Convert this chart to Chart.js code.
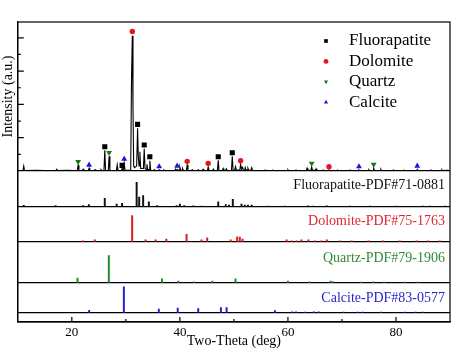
<!DOCTYPE html>
<html>
<head>
<meta charset="utf-8">
<script src="https://cdn.jsdelivr.net/npm/chart.js@4.4.1/dist/chart.umd.min.js"></script>
<style>
  html, body { margin: 0; padding: 0; background: #fff; }
  canvas { display: block; }
</style>
</head>
<body>
<canvas id="xrd" width="474" height="350"></canvas>
<script>
// measured pattern: [2-theta, counts]
const spectrum = [
  [10, 30], [10.95, 30], [11.1, 300], [11.25, 30],
  [13.5, 45], [15.0, 30], [17.05, 30], [17.2, 100], [17.35, 30],
  [19.0, 40], [20.5, 30], [21.0, 40], [21.17, 340], [21.32, 40],
  [21.95, 30], [22.1, 110], [22.25, 30],
  [23.05, 30], [23.2, 170], [23.35, 30],
  [24.15, 30], [24.3, 90], [24.45, 30],
  [25.25, 30], [25.4, 90], [25.55, 30],
  [25.95, 30], [26.1, 1250], [26.25, 30],
  [26.75, 30], [26.9, 880], [27.05, 30],
  [28.25, 30], [28.4, 380], [28.55, 30],
  [29.15, 30], [29.3, 150], [29.45, 30],
  [29.55, 30], [29.7, 460], [29.85, 40],
  [30.9, 60], [31.05, 5600], [31.2, 8130], [31.32, 3800], [31.45, 300], [31.6, 200],
  [32.0, 300], [32.17, 2560], [32.3, 900], [32.45, 300], [32.6, 1150], [32.75, 150],
  [33.25, 150], [33.4, 1330], [33.55, 150], [33.75, 100], [33.9, 400], [34.05, 80],
  [34.3, 80], [34.44, 620], [34.6, 40],
  [35.1, 30], [35.25, 90], [35.4, 30],
  [36.05, 30], [36.17, 70], [36.3, 30],
  [36.9, 30], [37.0, 70], [37.15, 30],
  [39.05, 30], [39.2, 120], [39.35, 40], [39.5, 90], [39.65, 30],
  [39.85, 40], [40.0, 240], [40.15, 40], [40.4, 40], [40.5, 150], [40.65, 30],
  [41.2, 30], [41.35, 360], [41.5, 30],
  [42.15, 30], [42.3, 80], [42.45, 30],
  [43.25, 30], [43.4, 80], [43.55, 30],
  [44.15, 30], [44.3, 100], [44.45, 30],
  [45.1, 30], [45.24, 240], [45.4, 30],
  [46.05, 30], [46.2, 110], [46.35, 30],
  [46.95, 30], [47.1, 640], [47.25, 30],
  [47.85, 30], [48.0, 150], [48.15, 30], [48.45, 30], [48.6, 130], [48.75, 30],
  [49.55, 30], [49.7, 880], [49.85, 60],
  [50.15, 60], [50.3, 260], [50.45, 60],
  [51.1, 60], [51.24, 420], [51.4, 100], [51.6, 230], [51.75, 60],
  [52.0, 60], [52.1, 200], [52.25, 50],
  [52.5, 50], [52.6, 170], [52.75, 40],
  [53.15, 40], [53.3, 200], [53.45, 30],
  [55.7, 30], [55.8, 60], [55.9, 30],
  [57.1, 30], [57.2, 50], [57.3, 30],
  [59.9, 30], [60.0, 80], [60.1, 30],
  [61.4, 30], [61.5, 60], [61.6, 30],
  [63.4, 30], [63.55, 170], [63.7, 40], [64.25, 40], [64.4, 240], [64.55, 40],
  [65.1, 40], [65.2, 130], [65.35, 30],
  [66.4, 30], [66.5, 60], [66.6, 30],
  [67.5, 30], [67.6, 80], [67.7, 30],
  [69.1, 30], [69.2, 50], [69.3, 30],
  [71.4, 30], [71.5, 60], [71.6, 30],
  [73.05, 30], [73.15, 70], [73.25, 30],
  [74.9, 30], [75.0, 80], [75.1, 30],
  [75.75, 30], [75.87, 190], [76.0, 30],
  [77.1, 30], [77.2, 100], [77.3, 30],
  [79.4, 30], [79.5, 60], [79.6, 30],
  [81.4, 30], [81.5, 50], [81.6, 30],
  [83.85, 30], [83.94, 90], [84.05, 30],
  [86.4, 30], [86.5, 60], [86.6, 30],
  [88.4, 30], [88.5, 80], [88.6, 30],
  [89.5, 40], [90, 30]
];

// phase markers above identified peaks: [2-theta, counts]
const fluorMarks = [[26.1, 1460], [29.3, 340], [32.17, 2800], [33.4, 1560], [34.44, 860], [47.1, 860], [49.7, 1100]];
const doloMarks = [[31.2, 8380], [41.35, 580], [45.24, 460], [51.24, 620], [67.6, 260]];
const quartzMarks = [[21.17, 560], [26.9, 1100], [64.4, 460], [75.87, 400]];
const calciteMarks = [[23.2, 360], [29.7, 720], [36.17, 260], [39.5, 300], [73.15, 260], [83.94, 300]];

// reference card lines: [2-theta, relative intensity]
const fluorSticks = [[11.1, 7], [17.0, 6], [22.1, 6], [23.15, 10], [26.1, 35], [28.3, 12], [29.3, 15],
  [32.0, 100], [32.47, 40], [33.2, 46], [34.26, 21], [35.8, 6], [39.4, 6], [40.0, 12], [40.8, 6],
  [42.5, 5], [44.0, 4], [47.1, 21], [48.5, 10], [49.1, 8], [49.8, 31], [51.4, 12], [52.0, 8],
  [52.6, 8], [53.3, 8], [56.4, 4], [59.4, 4], [63.7, 5], [64.6, 4], [67.2, 5], [71.5, 4],
  [75.2, 4], [80.1, 4], [85.0, 4], [86.3, 4], [89.1, 4]];
const doloSticks = [[22.1, 4], [24.26, 8], [31.17, 100], [33.65, 8], [35.5, 8], [37.5, 11], [41.24, 29],
  [44.0, 8], [45.06, 16], [49.4, 8], [50.6, 20], [51.1, 19], [51.6, 11], [59.75, 8], [60.7, 4],
  [61.6, 4], [62.5, 8], [63.8, 8], [65.0, 4], [66.2, 4], [67.2, 8], [69.6, 4], [71.8, 4],
  [74.9, 4], [77.6, 4], [80.7, 4], [83.8, 4], [85.9, 4], [88.1, 4]];
const quartzSticks = [[21.05, 18], [26.85, 100], [36.7, 15], [39.7, 7], [42.6, 4], [46.0, 7], [50.3, 15],
  [60.0, 7], [64.0, 4], [67.9, 7], [68.3, 5], [73.6, 3], [75.8, 4], [77.8, 3], [81.6, 3], [84.0, 3]];
const calciteSticks = [[23.2, 10], [29.63, 100], [36.1, 15], [39.6, 19], [43.4, 17], [47.6, 20], [48.65, 20],
  [57.6, 9], [60.8, 4], [61.5, 4], [63.2, 3], [64.8, 4], [65.7, 4], [70.3, 3], [72.9, 3],
  [73.8, 3], [77.2, 3], [81.6, 3], [83.6, 3], [84.9, 3]];

const xTicks = [20, 40, 60, 80];
const xMinorTicks = [30, 50, 70];
const yTicks = [1000, 2000, 3000, 4000, 5000, 6000, 7000, 8000];
const panelLabels = ['Fluorapatite-PDF#71-0881', 'Dolomite-PDF#75-1763', 'Quartz-PDF#79-1906', 'Calcite-PDF#83-0577'];

const SERIF = '"Liberation Serif", "Times New Roman", serif';
const RED = '#e5141e', GREEN = '#17791a', BLUE = '#1616e0', BLACK = '#000';
const panelColors = ['#111', '#e3262c', '#2f8a36', '#2727c9'];

const pts = arr => arr.map(([x, y]) => ({ x, y }));

const markerSet = (label, data, color, style, radius, rotation = 0) => ({
  type: 'scatter', label, data: pts(data), yAxisID: 'y0',
  pointStyle: style, pointRadius: radius, pointRotation: rotation,
  backgroundColor: color, borderColor: color, pointBorderWidth: 0
});

const stickSet = (data, axis, color) => ({
  type: 'bar', data: pts(data), yAxisID: axis, backgroundColor: color,
  barThickness: 1.3, grouped: false, borderWidth: 0
});

const onlyZero = s => { s.ticks = [{ value: 0 }]; };

const panelAxis = (weight, min, max) => ({
  type: 'linear', position: 'left', stack: 'xrd', stackWeight: weight, min, max,
  afterBuildTicks: onlyZero,
  ticks: { display: false },
  grid: { drawTicks: false, color: BLACK, lineWidth: 1.2 },
  border: { color: BLACK, width: 1.2 }
});

// frame, inward ticks, card labels and legend
const decorations = {
  id: 'decorations',
  afterDatasetsDraw(chart) {
    const { ctx, chartArea: a, scales } = chart;
    ctx.save();
    ctx.strokeStyle = BLACK;
    ctx.lineWidth = 1.2;
    ctx.strokeRect(a.left, a.top, a.right - a.left, a.bottom - a.top);

    ctx.beginPath();
    yTicks.forEach(v => {
      const y = scales.y0.getPixelForValue(v);
      ctx.moveTo(a.left, y);
      ctx.lineTo(a.left + (v % 2000 === 0 ? 6 : 3), y);
    });
    xTicks.forEach(v => {
      const x = scales.x.getPixelForValue(v);
      ctx.moveTo(x, a.bottom);
      ctx.lineTo(x, a.bottom - 5);
    });
    xMinorTicks.forEach(v => {
      const x = scales.x.getPixelForValue(v);
      ctx.moveTo(x, a.bottom);
      ctx.lineTo(x, a.bottom - 3);
    });
    ctx.stroke();

    ctx.font = '14px ' + SERIF;
    ctx.textAlign = 'right';
    ctx.textBaseline = 'middle';
    ['y1', 'y2', 'y3', 'y4'].forEach((id, i) => {
      const s = scales[id];
      ctx.fillStyle = panelColors[i];
      ctx.fillText(panelLabels[i], a.right - 5, s.top + 0.4 * (s.bottom - s.top));
    });

    ctx.font = '17px ' + SERIF;
    ctx.textAlign = 'left';
    chart.data.datasets.filter(d => d.type === 'scatter').forEach((d, i) => {
      const y = a.top + 19 + i * 20.4;
      ctx.fillStyle = d.backgroundColor;
      Chart.helpers.drawPoint(ctx, {
        pointStyle: d.pointStyle, rotation: d.pointRotation,
        radius: d.pointStyle === 'rect' ? 2.6 : 2.4, borderWidth: 0
      }, a.right - 124, y);
      ctx.fillStyle = BLACK;
      ctx.fillText(d.label, a.right - 101, y);
    });
    ctx.restore();
  }
};

new Chart(document.getElementById('xrd'), {
  type: 'line',
  data: {
    datasets: [
      markerSet('Fluorapatite', fluorMarks, BLACK, 'rect', 3.6),
      markerSet('Dolomite', doloMarks, RED, 'circle', 2.7),
      markerSet('Quartz', quartzMarks, GREEN, 'triangle', 3.4, 180),
      markerSet('Calcite', calciteMarks, BLUE, 'triangle', 3.4),
      {
        type: 'line', data: pts(spectrum), yAxisID: 'y0',
        borderColor: BLACK, borderWidth: 1.1, pointRadius: 0, tension: 0
      },
      stickSet(fluorSticks, 'y1', panelColors[0]),
      stickSet(doloSticks, 'y2', '#e2161e'),
      stickSet(quartzSticks, 'y3', '#1f8a26'),
      stickSet(calciteSticks, 'y4', '#2020d0')
    ]
  },
  options: {
    responsive: false,
    animation: false,
    devicePixelRatio: 1,
    layout: { padding: { left: 0, right: 24, top: 22, bottom: 0 } },
    plugins: { legend: { display: false }, tooltip: { enabled: false } },
    scales: {
      x: {
        type: 'linear', min: 10, max: 90, offset: false,
        afterBuildTicks: s => { s.ticks = xTicks.map(v => ({ value: v })); },
        ticks: { font: { family: SERIF, size: 13 }, color: BLACK, padding: 3, maxRotation: 0, autoSkip: false },
        grid: { display: false, drawTicks: false, offset: false },
        border: { color: BLACK, width: 1.2 },
        title: {
          display: true, text: 'Two-Theta (deg)', color: BLACK,
          font: { family: SERIF, size: 14 }, padding: { top: -10.4, bottom: 0 }
        }
      },
      // left-side stacked axes are laid out bottom panel first
      y4: panelAxis(39, -35, 115),
      y3: panelAxis(41, 0, 150),
      y2: panelAxis(35, 0, 133),
      y1: panelAxis(36, 0, 146),
      y0: {
        type: 'linear', position: 'left', stack: 'xrd', stackWeight: 149, min: 0, max: 8950,
        afterBuildTicks: onlyZero,
        ticks: { display: false },
        grid: { drawTicks: false, color: BLACK, lineWidth: 1.2 },
        border: { color: BLACK, width: 1.2 },
        title: {
          display: true, text: 'Intensity (a.u.)', color: BLACK,
          font: { family: SERIF, size: 14 }, padding: { top: 0, bottom: 1 }
        }
      }
    }
  },
  plugins: [decorations]
});
</script>
</body>
</html>
